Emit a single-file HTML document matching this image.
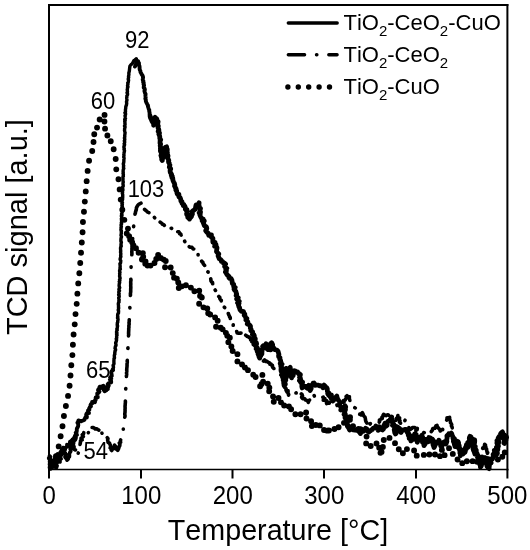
<!DOCTYPE html>
<html><head><meta charset="utf-8"><style>
html,body{margin:0;padding:0;background:#fff;}
svg{display:block;}
text{font-family:"Liberation Sans",Arial,sans-serif;fill:#000;font-kerning:none;}
</style></head><body>
<svg width="530" height="550" viewBox="0 0 530 550">
<rect width="530" height="550" fill="#fff"/>
<g fill="none" stroke="#000" stroke-linejoin="round" stroke-linecap="round">
<path d="M49.5,456.0 L50.5,456.9 L48.8,458.1 L49.1,459.0 L50.4,459.9 L50.0,461.1 L50.3,462.1 L49.9,463.3 L49.6,464.4 L51.3,465.4 L51.5,466.6 L49.6,467.8 L50.6,468.7 L51.3,468.1 L49.7,466.8 L50.9,466.1 L51.8,465.3 L50.9,463.3 L52.8,461.8 L52.8,460.4 L53.2,460.9 L53.4,462.1 L52.3,463.5 L51.5,464.8 L53.0,465.7 L52.5,466.4 L53.1,465.2 L52.4,463.4 L53.1,461.9 L53.9,460.5 L54.5,458.8 L55.9,460.1 L56.0,461.4 L56.2,462.5 L55.7,463.6 L56.3,464.6 L57.0,465.7 L56.2,467.7 L56.2,465.7 L56.5,464.6 L55.5,463.4 L57.5,462.3 L57.3,461.2 L55.6,459.8 L56.4,458.5 L57.5,457.2 L57.6,456.2 L58.3,455.4 L57.2,454.3 L57.4,454.1 L57.3,454.4 L58.3,455.2 L57.9,456.3 L57.3,457.4 L57.6,458.3 L58.6,459.2 L58.6,460.2 L59.1,460.0 L58.5,460.1 L60.0,459.3 L59.2,458.2 L58.7,457.2 L59.7,456.4 L60.2,455.5 L60.3,454.7 L59.8,453.6 L60.2,452.8 L60.5,451.9 L60.7,453.4 L62.0,454.4 L62.1,452.9 L62.7,451.5 L61.8,450.1 L62.0,448.9 L63.8,447.9 L63.1,447.7 L64.0,448.3 L65.1,449.6 L64.6,448.5 L65.8,447.7 L67.3,446.2 L67.0,444.7 L67.2,444.9 L67.8,446.3 L68.6,444.8 L69.3,444.4 L70.5,443.8 L69.9,442.7 L70.0,441.6 L71.4,442.3 L72.0,443.8 L73.5,443.1 L71.9,441.2 L74.0,440.0 L74.4,438.4 L74.2,437.5 L74.2,438.3 L75.1,440.1 L75.7,438.6 L75.9,437.7 L75.7,436.7 L75.0,435.7 L77.0,435.0 L76.5,433.9 L75.7,432.8 L76.6,432.0 L76.8,430.6 L76.8,429.1 L77.0,428.1 L77.7,427.2 L78.1,426.2 L78.3,425.2 L78.2,424.1 L77.4,422.8 L78.1,421.9 L78.4,420.5 L80.0,420.9 L81.1,421.3 L82.0,420.8 L83.0,420.5 L84.5,419.7 L85.2,417.7 L86.8,417.6 L86.9,416.5 L86.1,415.0 L86.4,414.0 L86.9,413.1 L89.0,413.0 L88.1,411.6 L88.0,410.5 L89.4,409.7 L89.1,408.4 L89.6,407.8 L89.8,407.2 L91.0,406.4 L90.5,405.1 L91.0,404.0 L92.4,403.3 L92.1,401.9 L93.6,401.7 L95.0,402.2 L94.2,401.0 L95.4,400.4 L95.8,399.5 L95.6,398.4 L95.7,397.5 L97.8,397.2 L97.4,395.3 L97.2,393.4 L98.6,392.6 L99.5,391.6 L98.0,390.1 L98.4,389.2 L99.0,388.5 L100.6,388.1 L99.6,386.8 L101.0,386.7 L102.2,386.3 L103.4,385.7 L104.6,387.1 L103.4,389.3 L104.6,391.3 L106.2,390.4 L106.8,389.4 L107.9,389.1 L107.5,388.1 L108.2,387.3 L107.8,386.3 L108.8,385.6 L107.7,384.2 L109.0,383.0 L111.2,382.3 L111.1,380.9 L109.9,379.7 L111.3,378.7 L110.1,377.5 L111.8,375.9 L111.6,374.1 L111.3,372.9 L111.4,371.8 L112.0,370.8 L113.1,370.1" stroke-width="3.9"/>
<path d="M113.1,370.1 L112.6,369.0 L113.3,368.2 L113.5,367.2 L113.3,366.3 L113.1,365.3 L113.8,364.4 L114.0,363.5 L113.9,362.5 L113.9,361.6 L113.9,360.6 L114.0,359.7 L114.0,358.7 L114.5,357.8 L114.4,356.9 L114.3,355.9 L114.4,355.0 L114.9,354.1 L114.7,353.1 L115.0,352.1 L114.9,351.2 L115.5,350.3 L115.6,349.3 L115.0,348.3 L115.2,347.4 L115.4,346.4 L116.0,345.5 L116.0,344.6 L115.7,343.6 L115.7,342.6 L116.2,341.7 L116.4,340.8 L116.6,339.8 L116.2,338.8 L116.7,337.9 L116.7,337.0 L116.6,336.0 L117.1,335.0 L116.5,334.0 L117.0,333.0 L116.5,332.0 L116.7,331.0 L117.3,330.0 L116.8,329.0 L117.3,328.0 L117.3,327.0 L117.6,326.0 L117.2,325.0 L117.3,324.0 L117.3,323.0 L117.8,322.0 L117.7,321.0 L118.0,320.0 L118.1,319.0 L117.5,318.0 L117.9,317.0 L117.6,316.0 L117.7,315.0 L117.8,314.0 L118.5,313.0 L118.5,312.0 L118.6,311.0 L118.2,310.0 L118.5,309.0 L118.7,308.0 L118.4,307.0 L118.6,306.0 L118.4,304.9 L118.3,303.9 L118.5,302.9 L119.1,301.9 L118.8,300.9 L119.2,299.9 L118.8,298.9 L118.7,297.8 L119.2,296.8 L119.2,295.8 L118.6,294.8 L119.2,293.8 L118.8,292.8 L118.8,291.7 L119.5,290.7 L118.9,289.7 L119.1,288.7 L119.7,287.7 L119.3,286.7 L119.1,285.6 L119.2,284.6 L119.3,283.6 L119.7,282.6 L119.2,281.6 L119.9,280.6 L119.5,279.6 L120.1,278.6 L120.0,277.5 L119.6,276.5 L119.6,275.5 L119.8,274.4 L119.6,273.4 L120.0,272.3 L119.6,271.2 L119.6,270.2 L120.4,269.1 L119.9,268.1 L120.2,267.0 L120.1,265.9 L120.1,264.9 L119.9,263.8 L120.6,262.8 L120.7,261.7 L120.8,260.6 L120.1,259.6 L120.2,258.5 L120.6,257.4 L120.9,256.4 L120.6,255.3 L120.8,254.3 L120.8,253.2 L120.5,252.1 L120.8,251.1 L120.6,250.0 L120.6,249.0 L120.5,248.0 L120.7,247.1 L121.3,246.1 L120.9,245.1 L121.1,244.2 L121.1,243.2 L121.4,242.2 L120.9,241.2 L120.9,240.3 L120.9,239.3 L121.0,238.3 L121.4,237.4 L121.5,236.4 L121.0,235.4 L121.1,234.4 L121.3,233.5 L121.3,232.5 L121.4,231.5 L121.1,230.6 L120.9,229.6 L121.1,228.6 L121.0,227.6 L121.4,226.7 L121.1,225.7 L121.1,224.7 L121.6,223.8 L121.3,222.8 L121.8,221.8 L121.5,220.8 L121.9,219.9 L121.3,218.9 L121.6,217.9 L121.9,217.0 L121.3,216.0 L122.1,215.0 L121.5,214.0 L122.0,213.0 L122.2,211.9 L122.1,210.9 L121.8,209.9 L121.6,208.8 L122.0,207.8 L122.4,206.8 L121.9,205.7 L122.4,204.7 L121.9,203.7 L122.5,202.7 L121.9,201.6 L122.1,200.6 L122.6,199.6 L122.6,198.6 L122.7,197.5 L122.7,196.5 L122.7,195.5 L122.7,194.5 L122.3,193.4 L122.6,192.4 L122.4,191.4 L122.9,190.3 L122.9,189.3 L122.6,188.3 L122.5,187.2 L123.2,186.2 L123.2,185.2 L123.0,184.2 L123.0,183.1 L123.3,182.1 L123.0,181.1 L123.0,180.1 L123.0,179.0 L123.0,178.0 L122.9,177.0 L123.4,176.1 L123.2,175.1 L123.4,174.2 L123.0,173.2 L123.3,172.3 L123.1,171.3 L123.2,170.4 L123.3,169.4 L123.8,168.5 L123.5,167.5 L123.5,166.6 L123.7,165.7 L123.4,164.7 L123.3,163.7 L123.7,162.8 L123.8,161.9 L123.9,160.9 L123.8,159.9 L124.0,159.0 L124.1,158.1 L123.7,157.1 L123.9,156.1 L124.0,155.2 L123.8,154.2 L124.0,153.3 L124.1,152.4 L124.4,151.4 L124.5,150.5 L124.0,149.5 L124.3,148.6 L123.9,147.6 L123.9,146.6 L124.3,145.7 L124.6,144.8 L124.1,143.8 L124.6,142.9 L124.7,141.9 L124.3,140.9 L124.7,140.0 L124.8,139.1 L124.4,138.1 L124.7,137.2 L124.8,136.3 L124.7,135.3 L124.9,134.4 L125.0,133.4 L125.1,132.5 L124.8,131.6 L124.5,130.6 L124.6,129.7 L124.6,128.7 L124.9,127.8 L125.1,126.9 L124.5,125.9 L125.0,125.0 L125.1,124.1 L124.8,123.1 L125.0,122.2 L124.7,121.2 L125.2,120.3 L124.7,119.4 L125.5,118.4 L125.3,117.5 L125.2,116.6 L125.0,115.6 L125.5,114.7 L125.6,113.8 L124.9,112.8 L125.5,111.9 L125.5,110.9 L125.4,110.0 L125.7,108.4 L125.8,106.7 L126.4,105.1 L126.7,103.4 L126.5,101.7 L127.0,100.0 L126.8,99.0 L126.7,97.9 L126.9,96.9 L126.8,95.9 L127.5,94.9 L127.6,93.9 L127.0,92.8 L127.5,91.8 L127.4,90.8 L127.2,89.7 L127.5,88.7 L127.5,87.7 L128.0,86.8 L127.5,85.8 L127.7,84.9 L128.0,83.9 L127.7,83.0 L128.3,82.1 L128.4,81.1 L128.6,80.2 L128.2,79.2 L128.4,78.3 L128.7,77.3 L128.5,76.4 L128.9,74.7 L128.8,72.9 L129.3,71.2 L129.5,69.5 L129.7,67.8 L129.9,66.1 L130.6,65.1 L131.5,64.2 L132.3,63.5 L132.9,62.6 L133.3,61.7 L133.8,60.7 L135.0,60.0 L136.2,59.1" stroke-width="3.4"/>
<path d="M136.2,59.1 L136.1,60.3 L136.8,61.1 L136.5,62.1 L136.8,63.0 L136.1,63.7 L135.8,64.7 L135.3,65.5 L134.9,66.6 L135.6,65.4 L136.0,64.3 L136.1,63.1 L136.6,62.0 L138.1,61.2 L138.3,62.3 L139.0,63.1 L138.9,64.1 L139.1,65.1 L139.5,66.2 L139.6,67.4 L139.6,68.7 L139.8,69.9 L140.4,71.0 L140.5,72.2 L141.2,73.3 L141.7,74.4 L142.6,75.7 L143.1,77.3 L142.9,78.4 L142.7,79.3 L142.9,80.3 L143.5,81.1 L143.1,82.2 L143.8,83.0 L143.5,84.2 L144.1,85.2 L143.8,86.4 L143.7,87.6 L144.6,88.6 L144.9,89.7 L144.4,90.9 L144.7,92.0 L145.0,93.1 L145.6,94.1 L145.4,95.2 L145.5,96.3 L145.7,97.4 L145.3,98.6 L145.8,99.6 L145.8,100.8 L146.3,102.4 L147.1,103.9 L148.0,105.4 L147.9,106.4 L148.3,107.3 L148.5,108.2 L148.8,109.2 L149.3,110.0 L149.2,111.0 L149.6,112.7 L149.6,114.4 L150.1,116.0" stroke-width="3.9"/>
<path d="M150.1,116.0 L150.4,117.7 L151.3,119.4 L151.9,121.0 L152.5,122.0 L153.2,122.9 L153.6,123.9 L153.6,125.3 L154.3,124.2 L154.1,123.2 L153.8,122.2 L154.8,121.4 L154.6,120.3 L154.7,119.3 L154.4,118.2 L155.1,117.3 L155.6,118.2 L156.6,118.7 L157.0,119.7 L157.0,120.9 L158.1,121.7 L157.9,122.9 L157.4,124.0 L157.8,125.0 L158.3,126.1 L158.0,127.2 L158.2,128.2 L158.7,129.3 L158.9,130.2 L158.2,131.3 L159.1,132.1 L159.5,133.0 L158.8,134.1 L159.3,135.0 L159.7,136.2 L159.8,137.4 L159.8,138.6 L160.7,139.7 L160.1,140.9 L160.1,142.0 L160.0,143.0 L160.6,144.1 L160.2,145.7 L160.7,147.2 L160.4,148.2 L161.0,149.1 L160.4,150.1 L160.4,151.1 L161.3,152.7 L161.6,154.4 L160.9,155.5 L161.4,156.5 L161.4,157.5 L162.5,158.3 L161.7,159.5 L162.3,160.5 L162.3,159.4 L162.7,158.4 L163.3,157.5 L163.6,156.6 L163.1,155.4 L163.8,154.6 L163.5,153.5 L164.6,152.6 L164.2,151.5 L164.9,150.6 L165.0,149.0 L165.2,147.5 L166.6,146.8 L166.6,148.1 L167.2,149.0 L167.3,150.0 L166.7,151.1 L167.4,152.6 L167.2,154.1 L168.0,155.8 L167.7,157.7 L167.8,158.6 L168.4,159.5 L168.8,160.4 L168.5,161.4 L168.6,162.3 L169.3,163.2 L169.5,164.1 L169.9,165.0 L169.5,166.1 L169.3,167.2 L170.3,168.0 L170.7,169.0 L170.1,170.1 L170.1,171.1 L170.3,172.4 L171.1,173.6 L171.6,174.4 L171.3,175.5 L172.3,176.3 L171.9,177.4 L172.8,178.2 L172.7,179.2 L173.1,180.7 L173.7,182.0 L174.4,183.4 L174.8,184.8 L174.5,186.0 L175.2,186.9 L175.4,187.9 L176.1,188.8 L175.8,190.0 L176.6,190.8 L176.8,191.9 L177.0,193.0 L177.4,194.0 L178.9,194.4 L178.6,195.8 L179.0,196.9 L180.1,197.6 L180.5,198.6 L180.8,199.8 L180.9,201.0 L182.0,201.8 L181.9,203.1 L182.6,203.9 L183.7,204.4 L183.4,205.7 L184.8,206.1 L185.3,207.6 L185.3,209.3 L186.9,209.7 L186.5,210.8 L187.4,211.5 L187.0,212.6 L186.6,213.8 L186.8,214.8 L188.9,215.1 L189.2,216.0 L187.9,217.5 L189.9,217.7 L189.7,218.8 L189.5,219.0 L189.1,218.6 L189.3,217.6 L190.9,217.2 L191.5,216.3 L191.7,215.2 L192.4,214.2 L192.3,212.9 L192.1,211.6 L193.5,210.4 L195.1,209.3 L195.5,207.8 L195.8,206.1 L196.1,205.0 L198.3,205.4 L198.4,204.0 L199.1,202.8 L198.9,204.7 L199.2,206.2 L199.4,207.4 L200.5,208.5 L200.0,209.7 L200.0,210.9 L200.5,211.8 L199.2,212.9 L200.3,213.8 L199.9,214.9 L200.3,215.9 L200.7,216.8 L201.2,217.7 L201.7,218.6 L203.1,219.1 L202.2,220.8 L204.3,221.0 L203.2,222.6 L203.8,224.0 L204.3,225.6 L206.4,226.8 L206.8,228.6 L205.7,230.7 L206.9,232.2 L208.3,233.2 L208.7,235.3 L211.5,235.0 L211.1,236.7 L211.8,237.6 L212.9,238.3 L212.9,239.6 L212.8,241.0 L212.9,242.2 L215.1,242.5 L214.6,244.0 L215.9,244.7 L214.7,246.3 L216.6,246.8 L217.0,247.8 L216.7,249.7 L216.5,251.6 L217.8,253.0 L218.8,254.0 L218.1,255.9 L218.7,257.3 L219.3,258.7 L221.0,259.7 L221.4,261.3 L222.6,261.6 L223.2,262.9 L224.5,263.2 L225.6,264.1 L224.8,265.4 L224.6,266.5 L225.6,267.5 L226.8,268.4 L225.8,269.7 L226.4,270.7 L225.4,272.0 L226.2,273.2 L227.0,274.7 L228.2,275.7 L229.0,276.3 L228.9,277.5 L229.5,278.3 L231.0,278.5 L231.9,280.1 L232.1,281.9 L232.4,283.7 L233.7,284.4 L233.7,285.6 L233.7,286.8 L235.2,287.4 L234.0,289.1 L234.6,290.2 L235.7,291.1 L236.1,292.2 L236.3,293.2 L236.7,294.2 L236.1,295.5 L237.0,296.3 L237.1,297.2 L238.2,297.8 L236.7,299.1 L238.2,299.7 L238.4,300.6 L239.2,301.3 L237.6,302.9 L239.0,303.6 L238.4,304.9 L238.7,305.9 L238.9,306.9 L239.6,307.7 L239.7,308.8 L240.1,309.9 L241.4,311.2 L243.5,311.7 L243.9,313.2 L244.8,314.2 L244.2,315.3 L245.0,316.1 L245.5,316.9 L245.7,317.8 L246.8,318.5 L245.9,320.0 L246.9,320.8 L247.7,321.7 L248.0,322.7 L247.3,324.0 L248.6,324.5 L249.7,325.1 L250.5,326.2 L250.3,328.0 L251.0,329.1 L250.8,330.6 L252.6,331.7 L252.7,333.4 L252.4,334.5 L254.0,334.9 L254.3,335.8 L253.7,337.0 L254.6,337.7 L255.3,338.6 L255.2,339.7 L254.7,340.9 L255.2,341.9 L256.3,342.7 L256.6,343.9 L255.3,345.4 L256.0,346.5 L257.1,347.5 L256.2,348.8 L258.1,349.1 L257.7,350.2 L257.2,351.4 L257.8,352.1 L258.9,352.7 L258.1,354.2 L259.1,355.2 L258.9,356.5 L259.7,358.1 L260.1,356.4 L260.8,355.7 L260.8,354.7 L261.9,354.0 L261.9,352.2 L262.1,350.4 L262.6,348.8 L263.4,348.2 L262.6,346.5 L263.3,345.6 L264.9,345.6 L265.6,344.8 L266.0,343.7 L266.4,344.8 L266.9,345.9 L266.4,347.4 L267.0,348.6 L268.1,349.6 L269.0,349.7 L270.7,349.8 L270.3,348.4 L269.9,347.3 L270.3,346.3 L271.3,345.5 L270.1,344.2 L271.6,342.7 L272.6,344.6 L272.7,346.8 L273.9,348.1 L274.9,349.6 L276.8,350.0 L278.0,351.2 L278.3,352.2 L278.6,353.3 L278.9,354.4 L278.6,355.7 L278.7,356.9 L280.0,357.8 L279.8,359.3 L280.6,360.6 L280.8,361.9 L280.6,363.1 L280.6,364.2 L280.9,365.4 L282.0,364.3 L280.4,363.1 L280.9,362.2 L280.2,363.4 L280.8,364.7 L281.1,366.0 L281.6,367.2 L281.2,366.3 L280.8,365.9 L280.9,366.7 L281.4,367.9 L281.0,369.0 L281.0,370.2 L281.2,371.3 L282.2,372.3 L282.1,373.4 L282.0,374.1 L283.0,375.3 L282.4,376.8 L283.0,377.9 L283.3,379.1 L283.2,380.3 L283.9,381.4 L283.7,382.5 L283.8,383.7 L284.7,384.7 L284.2,385.8 L284.0,384.9 L285.2,383.7 L284.7,382.5 L284.2,381.3 L285.7,380.2 L284.5,378.6 L285.3,377.3 L285.9,376.3 L285.4,377.1 L286.0,378.1 L286.5,377.2 L286.0,376.1 L286.6,375.1 L286.2,373.9 L287.2,372.7 L286.7,371.4 L285.5,370.2 L286.0,368.4 L287.6,370.1 L289.3,369.6 L288.9,368.7 L290.2,367.3 L290.4,369.0 L289.6,370.4 L290.8,371.5 L290.4,372.8 L290.6,374.5 L290.3,372.8 L291.5,372.0 L290.9,371.7 L291.5,372.2 L291.6,373.4 L292.1,374.5 L291.0,375.8 L291.6,377.9 L291.9,375.5 L293.2,375.7 L293.2,374.3 L293.9,373.1 L293.0,371.4 L294.3,370.7 L295.4,371.1 L296.2,371.9 L297.6,371.8 L297.8,372.8 L298.8,374.1 L299.1,373.6 L300.4,374.7 L300.0,376.1 L299.5,377.3 L300.4,378.2 L300.3,379.4 L299.5,380.5 L301.2,381.4 L301.1,382.9 L299.9,381.0 L300.8,379.5 L301.1,381.5 L302.6,382.2 L302.2,383.6 L302.6,384.8 L301.8,386.1 L302.1,388.0 L303.6,386.8 L304.5,386.4 L305.3,386.4 L306.0,386.4 L307.2,386.6 L306.9,388.1 L307.7,388.3 L308.3,387.4 L308.8,385.3 L308.2,387.7 L309.2,388.6 L310.1,390.5 L311.2,388.6 L310.4,386.7 L311.4,386.1 L311.7,385.2 L312.8,384.1 L313.1,383.2 L314.0,383.0 L314.7,383.9 L314.9,385.3 L316.3,385.2 L317.5,385.1 L318.5,385.2 L319.7,385.9 L320.8,385.7 L321.4,386.1 L322.3,386.5 L322.9,387.8 L322.8,386.2 L323.9,385.1 L325.2,386.3 L325.4,387.5 L326.8,387.6 L327.3,388.8 L327.3,390.0 L327.4,391.2 L327.9,392.3 L327.7,393.6 L329.1,393.2 L328.4,394.8 L329.1,395.5 L329.8,396.4 L329.9,396.5 L330.5,395.9 L331.4,395.0 L331.3,396.0 L331.2,397.3 L331.3,398.6 L332.6,399.7 L332.5,401.1 L333.5,400.5 L333.7,399.3 L334.5,398.2 L335.6,397.4 L336.8,396.1 L337.2,397.9 L337.5,399.1 L338.3,400.1 L338.5,400.4 L339.5,401.4 L340.0,402.4 L339.6,403.7 L339.3,405.0 L340.2,406.1 L341.1,407.3 L341.2,408.8 L340.8,410.0 L341.8,409.7 L343.1,409.7 L343.4,410.5 L344.3,410.1 L345.3,409.3 L345.0,407.9 L345.3,406.8 L345.0,405.8 L345.7,406.9 L345.2,408.1 L345.5,409.2 L345.3,410.3 L344.4,411.4 L344.5,412.5 L345.2,413.8 L344.7,414.0 L344.1,414.4 L345.2,415.1 L345.1,416.1 L345.3,417.6 L345.6,418.5 L345.1,417.8 L346.6,416.8 L346.6,418.6 L346.0,420.0 L346.6,421.3 L347.4,422.5 L346.9,423.8 L347.7,424.9 L347.4,426.2 L347.9,427.0 L349.0,426.4 L349.4,427.0 L348.9,428.5 L349.6,430.0 L350.7,429.1 L351.0,427.9 L351.4,427.5 L352.1,427.8 L352.3,428.9 L353.0,429.9 L354.8,430.0 L356.5,430.3 L357.7,430.0 L358.9,429.7 L358.7,431.3 L359.7,432.4 L360.4,433.6 L359.9,432.4 L360.8,431.4 L360.5,430.2 L361.2,428.8 L361.7,430.2 L362.0,431.3 L362.8,430.8 L363.6,430.7 L364.4,430.2 L365.0,429.3 L365.6,428.3 L367.0,429.3 L367.4,430.7 L368.0,431.6 L369.0,432.0 L369.8,431.1 L370.9,430.6 L371.4,429.8 L372.4,429.5 L373.1,428.3 L374.0,428.0 L375.2,427.7 L375.8,426.1 L376.0,428.1 L377.7,428.4 L378.1,430.4 L377.9,428.4 L379.3,427.5 L379.2,426.7 L379.8,427.2 L379.3,428.5 L380.4,428.9 L381.2,429.3 L382.5,430.0 L383.6,428.8 L383.3,427.5 L384.3,426.5 L384.0,425.1 L384.8,424.0 L385.0,423.2 L384.9,423.8 L386.1,424.6 L385.5,426.6 L387.1,425.4 L387.3,423.8 L387.5,422.4 L388.3,421.2 L389.4,421.0 L389.9,419.8 L390.9,419.1 L391.2,418.0 L391.6,416.9 L391.1,418.2 L392.0,419.1 L391.9,420.3 L392.9,421.2 L392.4,422.6 L393.3,423.7 L392.5,425.3 L393.8,424.2 L394.6,425.8 L394.6,427.1 L394.7,428.3 L394.2,429.6 L394.5,430.7 L394.5,431.6 L394.6,431.7 L394.7,432.6 L395.5,434.0 L396.4,432.8 L396.6,431.7 L395.9,430.4 L397.0,429.3 L396.4,427.9 L397.0,426.7 L398.2,427.5 L399.2,428.2 L399.8,428.8 L399.7,429.8 L401.0,430.7 L401.0,432.6 L401.8,430.7 L403.2,429.9 L404.3,430.0 L404.9,429.3 L406.2,429.3 L406.4,430.5 L407.1,431.2 L407.9,431.0 L407.4,432.6 L408.2,433.7 L408.3,435.3 L409.0,433.9 L409.2,434.9 L410.1,435.9 L409.3,437.2 L409.2,438.4 L410.5,439.2 L410.9,440.8 L412.0,440.2 L412.3,439.1 L413.3,438.5 L414.2,437.5 L413.3,435.7 L415.1,435.2 L414.8,433.8 L415.1,433.8 L416.1,434.5 L415.4,435.7 L416.4,436.7 L416.2,437.9 L415.8,439.8 L416.4,438.0 L416.8,437.0 L416.5,435.8 L416.7,436.9 L416.8,438.0 L416.4,439.2 L416.6,440.3 L417.6,441.3 L417.3,442.3 L417.7,441.4 L418.1,440.5 L419.1,439.8 L419.4,438.8 L419.5,437.1 L420.2,438.9 L420.8,439.6 L420.2,439.0 L420.5,437.9 L421.0,436.9 L422.1,436.0 L421.9,435.0 L421.7,436.1 L422.7,437.3 L423.0,438.5 L421.9,440.0 L422.4,441.1 L422.4,442.3 L424.1,443.1 L423.8,444.3 L424.0,445.7 L424.8,444.5 L425.4,443.5 L425.3,442.2 L425.4,441.1 L425.7,439.3 L426.8,441.0 L428.3,441.7 L429.0,440.1 L428.9,438.9 L428.9,437.5 L430.3,437.8 L430.3,439.3 L430.8,440.4 L431.9,441.8 L431.8,440.0 L432.6,439.4 L433.3,440.7 L433.6,442.0 L433.1,443.3 L433.0,444.6 L433.5,445.9 L434.0,447.5 L434.8,446.0 L435.2,444.8 L435.6,443.5 L435.7,442.0 L437.0,441.8 L438.0,441.9 L438.1,443.2 L438.2,441.9 L438.8,441.0 L438.9,440.1 L439.5,441.3 L439.3,443.0 L440.9,443.6 L441.7,444.4 L440.8,446.1 L442.0,446.5 L442.1,445.6 L442.7,444.6 L443.3,443.7 L444.3,442.8 L444.1,441.8 L444.9,442.1 L445.3,443.2 L446.0,443.9 L446.5,442.6 L446.9,441.3 L446.6,439.9 L447.0,438.6 L447.1,437.3 L446.9,435.9 L447.9,434.8 L448.0,435.4 L448.8,433.7 L450.5,434.4 L451.4,433.7 L451.2,433.0 L451.8,433.7 L451.8,434.8 L452.5,435.8 L452.9,436.8 L452.9,437.8 L453.2,438.9 L453.5,440.2 L453.4,441.6 L454.1,442.8 L454.3,443.6 L454.4,444.6 L454.9,445.9 L454.9,446.5 L456.0,446.6 L455.7,445.4 L456.3,444.4 L457.2,443.4 L456.9,442.3 L457.0,441.2 L458.1,441.7 L458.6,442.9 L458.0,444.1 L459.0,445.2 L457.9,446.5 L459.2,447.3 L458.7,448.3 L459.5,448.8 L459.4,449.0 L459.6,450.3 L460.5,451.6 L459.9,453.0 L460.9,454.3 L460.4,455.5 L460.8,454.1 L461.9,452.8 L463.1,453.9 L464.1,452.5 L463.4,451.0 L464.2,450.2 L464.8,450.5 L464.3,451.8 L464.9,452.4 L465.3,451.4 L464.9,450.0 L466.3,448.9 L465.5,447.5 L466.2,446.3 L466.4,444.7 L466.9,446.3 L468.0,447.2 L468.3,445.9 L468.6,444.8 L467.9,443.7 L467.7,442.5 L468.5,442.0 L468.9,442.5 L468.3,443.7 L469.2,445.5 L469.4,443.6 L468.8,442.2 L470.1,441.2 L469.9,439.9 L469.3,438.7 L469.4,437.5 L470.0,436.3 L471.0,437.0 L470.3,438.6 L471.1,439.4 L471.8,440.8 L472.3,439.4 L472.7,439.3 L473.7,439.6 L473.3,441.1 L473.4,439.4 L474.7,440.0 L474.7,441.5 L474.6,442.8 L473.8,444.1 L474.5,445.4 L474.5,446.4 L474.6,447.6 L475.3,446.5 L475.1,448.1 L475.4,449.5 L475.5,451.2 L476.3,450.2 L476.2,449.9 L476.0,450.9 L476.4,452.2 L477.0,453.4 L477.4,454.5 L478.1,455.6 L477.5,457.3 L478.9,458.3 L478.8,459.9 L479.4,458.3 L480.5,457.9 L480.5,459.5 L479.6,460.8 L480.2,462.1 L479.7,463.4 L479.8,464.6 L481.2,465.7 L480.4,467.3 L480.4,465.8 L481.3,466.0 L481.4,464.7 L482.3,463.5 L481.8,462.2 L481.2,460.9 L481.8,459.6 L482.0,458.5 L481.9,456.8 L482.5,458.2 L482.3,459.8 L483.7,459.2 L484.1,458.5 L485.1,457.9 L485.3,459.8 L486.7,458.5 L486.2,459.7 L487.3,460.7 L487.4,461.8 L486.3,463.0 L486.8,463.7 L487.2,462.0 L487.4,464.0 L486.8,465.3 L487.1,466.5 L488.2,467.8 L489.2,468.6 L489.1,466.9 L489.4,465.6 L489.2,464.3 L489.0,462.9 L490.0,461.6 L489.5,460.2 L490.4,460.2 L491.0,459.2 L492.4,459.2 L492.6,457.7 L493.1,458.1 L493.5,456.9 L493.3,455.7 L493.1,454.4 L494.0,453.3 L494.7,452.1 L494.3,450.3 L495.9,451.9 L496.4,450.1 L496.7,448.7 L496.4,447.3 L497.5,446.3 L497.6,445.9 L497.5,444.5 L496.9,443.1 L497.8,442.0 L497.0,440.8 L498.5,439.9 L498.0,438.6 L498.4,437.6 L499.1,436.6 L499.8,435.8 L500.3,434.8 L500.7,433.6 L501.5,432.7 L502.5,431.9 L502.7,432.6 L502.7,433.9 L502.4,435.4 L502.7,434.5 L504.0,434.6 L503.8,435.9 L504.0,437.1 L502.9,438.3 L504.2,439.5 L504.3,440.6 L504.0,441.8 L503.8,442.9 L504.5,443.5 L505.0,442.1 L504.9,440.8 L504.7,439.5 L504.9,437.4 L505.7,439.4 L505.3,441.2 L506.0,439.8 L505.3,438.5 L506.6,437.4 L506.0,436.0" stroke-width="4.8"/>
<path d="M124.8,417.2 L125.0,416.3 L125.0,415.4 L124.8,414.4 L124.8,413.5 L125.0,412.6 L125.0,411.7 L125.1,410.7 L125.0,409.8 L125.1,408.9 L125.1,408.0 L125.1,407.0 L125.0,406.1 L125.2,405.2 L125.2,404.2 L125.3,403.3 L125.4,402.4 L125.4,401.5 L125.3,400.6 L125.3,399.6 L125.3,398.7 L125.3,397.8 L125.3,396.8 L125.5,395.9 L125.4,395.0 L125.5,394.0 L125.7,393.0 L125.7,392.0 L125.7,391.0 L125.7,390.0 L125.7,389.0 L125.8,388.0 L125.8,387.0 L126.0,386.0 L126.1,385.0 L126.1,384.0 L126.0,383.0 L126.3,382.0 L126.3,381.0 L126.3,380.0 L126.4,379.0 L126.4,378.0 L126.5,377.0 L126.4,376.0 L126.6,375.0 L126.7,374.0 L126.5,373.0 L126.7,372.0 L126.8,371.0 L126.7,370.0 L126.8,369.0 L126.8,368.0 L127.0,367.0 L127.0,366.0 L127.1,365.0 L127.0,364.0 L127.2,363.0 L127.3,362.0 L127.2,361.0 L127.3,360.0 L127.4,359.0 L127.4,358.0 L127.4,357.0 L127.4,356.0 L127.4,355.0 L127.6,354.0 L127.5,353.0 L127.8,352.0 L127.6,351.0 L127.9,350.0 L127.7,349.0 L128.0,348.0 L128.0,347.0 L128.0,346.0 L128.0,345.0 L128.1,344.0 L128.1,343.0 L128.1,342.0 L128.1,341.0 L128.3,340.0 L128.4,339.0 L128.4,338.0 L128.3,337.0 L128.5,336.0 L128.6,335.0 L128.7,334.0 L128.5,333.0 L128.7,332.0 L128.6,331.0 L128.8,330.0 L128.7,329.0 L128.8,328.0 L129.0,327.0 L128.8,326.0 L129.0,325.0 L129.2,324.0 L129.0,323.0 L129.1,322.0 L129.3,321.0 L129.2,320.0 L129.4,319.0 L129.2,318.0 L129.4,317.0 L129.4,316.0 L129.6,315.0 L129.4,314.0 L129.7,313.0 L129.5,312.0 L129.8,311.0 L129.6,310.0 L129.7,309.0 L129.9,308.0 L129.8,307.0 L129.9,306.0 L130.1,305.0 L130.0,304.0 L130.0,303.0 L130.3,302.0 L130.1,301.0 L130.1,300.0 L130.3,299.0 L130.4,298.0 L130.5,297.0 L130.3,296.0 L130.5,295.0 L130.4,294.0 L130.5,293.0 L130.7,292.0 L130.7,291.0 L130.7,290.0 L130.7,289.0 L130.8,288.0 L130.8,287.0 L130.7,286.0 L130.7,285.0 L130.8,284.0 L130.7,283.0 L130.7,282.0 L130.8,281.0 L131.0,280.0 L130.8,279.0 L131.0,278.0 L130.9,277.0 L131.0,276.0 L130.9,275.0 L131.2,274.1 L131.0,273.1 L131.1,272.2 L131.1,271.2 L131.0,270.3 L131.2,269.4 L131.1,268.4 L131.1,267.5 L131.1,266.6 L131.2,265.6 L131.2,264.7 L131.4,263.8 L131.4,262.8 L131.6,261.9 L131.6,260.9 L131.6,260.0 L131.5,259.0 L131.6,258.0 L131.6,257.0 L131.7,256.0 L131.8,255.0 L131.9,254.0 L131.9,253.0 L131.8,252.0 L131.9,251.0 L132.0,250.0 L131.9,249.0 L132.0,248.0 L132.1,247.0 L132.1,246.0 L132.3,245.0 L132.2,244.0 L132.2,243.0 L132.3,242.0 L132.4,241.0 L132.4,240.0 L132.6,239.0 L132.7,238.0 L132.7,237.0 L132.9,236.0 L132.8,235.0 L133.1,234.0 L133.2,233.0 L133.2,232.0 L133.2,231.0 L133.3,230.0 L133.4,229.0 L133.4,228.0 L133.6,226.9 L133.7,225.8 L133.8,224.7 L133.8,223.7 L134.2,222.6 L134.2,221.5 L134.3,220.4 L134.6,219.3 L134.6,218.3 L134.6,217.2 L134.9,216.1 L134.9,215.0 L135.0,214.0 L135.4,213.0 L135.5,212.0 L135.8,211.0 L136.2,210.0 L136.4,209.0 L136.4,208.0 L136.8,207.0 L137.6,205.7 L138.5,204.5 L139.7,203.8 L141.0,203.2" stroke-width="3.6" stroke-dasharray="16.3 12.1 0.5 12.1" stroke-dashoffset="0.00"/>
<path d="M141.0,203.2 L141.5,204.0 L141.9,204.9 L142.3,205.8 L142.5,206.8 L143.2,207.6 L143.4,208.5 L144.4,209.2 L145.2,210.0 L146.1,210.7 L147.0,211.5 L147.7,212.1 L148.5,212.5 L149.3,212.9 L150.2,213.2 L151.5,214.2 L152.3,215.9 L153.7,216.6 L154.7,217.8 L155.5,218.3 L156.7,218.5 L156.9,219.6 L157.5,220.4 L158.2,221.0 L159.0,221.6 L160.5,222.4 L161.9,223.4 L162.4,224.2 L163.4,224.4 L164.0,225.1 L164.7,225.7 L166.2,226.5 L167.9,226.8 L168.9,227.5 L170.0,228.1 L171.3,228.2 L172.4,228.8 L173.2,229.2 L174.2,229.1 L175.1,229.4 L175.9,229.8 L176.4,230.6 L177.3,231.0 L177.8,231.8 L178.9,231.9 L179.4,232.7 L179.6,233.8 L180.8,234.1 L181.1,235.1 L181.9,235.7 L182.4,236.6 L182.2,237.8 L182.6,238.7 L183.4,239.5 L184.3,240.3 L184.7,241.4 L185.2,242.3 L185.4,243.4 L185.8,244.3 L186.6,245.0 L187.0,245.9 L188.1,245.8 L189.0,246.5 L189.9,247.2 L190.9,247.3 L192.0,247.3 L192.5,248.2 L193.1,248.9 L194.2,249.0 L194.9,250.8 L196.4,251.8 L197.3,253.3 L198.1,253.9 L198.1,255.0 L198.8,255.6 L199.4,256.3 L200.3,257.2 L200.6,258.4 L201.4,259.3 L201.4,260.6 L201.7,261.6 L202.8,262.2 L203.0,263.2 L203.5,264.1 L204.6,265.4 L205.3,267.0 L205.6,268.1 L206.3,269.0 L207.0,270.0 L207.0,271.3 L208.1,271.9 L208.2,273.0 L208.8,273.8 L209.2,274.8 L209.4,275.9 L210.3,276.8 L210.3,278.0 L210.8,279.0 L210.9,280.0 L211.0,281.0 L211.6,281.8 L212.5,282.5 L212.6,283.6 L212.9,284.7 L213.2,285.7 L213.9,286.5 L214.2,287.7 L215.5,288.4 L215.1,289.9 L215.8,290.9 L216.4,291.7 L216.6,292.8 L217.2,293.7 L218.4,294.3 L218.2,295.6 L218.8,296.6 L219.8,297.3 L219.8,298.6 L220.4,299.5 L221.3,300.3 L221.2,301.6 L222.3,302.3 L222.4,303.5 L223.1,304.5 L223.7,305.5 L223.9,306.7 L224.7,307.6 L225.5,308.5 L225.6,309.8 L227.0,310.3 L227.9,311.8 L228.3,313.5 L228.9,315.1 L229.4,315.9 L229.6,316.8 L230.2,317.5 L230.3,318.5 L230.9,319.2 L231.3,320.1 L231.4,321.1 L232.1,321.8 L232.5,322.7 L232.4,323.8 L233.3,324.4 L233.2,325.5 L233.7,326.5 L234.4,327.2 L234.6,328.2 L235.0,329.2 L235.3,330.2 L236.5,330.9 L236.9,331.9 L237.1,333.0 L238.8,333.2 L240.5,333.1 L241.5,333.1 L242.2,333.9 L243.0,334.6 L244.1,334.3 L244.8,334.9 L245.7,335.2" stroke-width="3.6" stroke-dasharray="5.5 7.5 0.5 7.5" stroke-dashoffset="13.6"/>
<path d="M245.7,335.2 L246.5,335.7 L247.1,336.5 L248.2,336.5 L248.9,337.3 L249.8,337.7 L250.5,338.3 L250.6,339.9 L253.1,339.9 L251.9,341.8 L253.5,342.4 L253.2,343.8 L253.3,345.1 L254.4,346.4 L255.8,347.4 L255.7,349.1 L258.0,349.1 L257.2,350.6 L258.1,351.3 L258.1,352.3 L257.7,353.4 L258.1,354.4 L258.9,355.3 L259.9,356.1 L260.4,357.0 L260.7,358.1 L261.9,358.7 L262.6,359.6 L262.6,361.9 L264.5,359.9 L265.8,361.5 L267.0,361.3 L267.7,362.0 L268.6,362.6 L269.7,362.9 L269.9,364.1 L271.0,364.0 L271.4,365.0 L272.4,365.2 L272.6,367.3 L273.8,368.5 L275.5,368.0 L276.4,368.9 L276.9,370.4 L278.9,370.5 L280.0,371.4 L280.2,372.6 L280.7,373.3 L280.3,374.7 L281.9,375.5 L282.3,376.7 L281.6,378.1 L283.2,378.8 L282.8,380.6 L283.9,381.5 L285.1,382.4 L284.4,383.8 L285.7,384.8 L284.6,386.2 L284.7,387.4 L286.1,388.6 L286.0,390.1 L287.1,392.1 L288.0,390.6 L288.1,391.2 L288.0,392.3 L288.0,393.4 L288.7,394.5 L288.4,395.9 L290.5,396.3 L291.8,397.2 L292.6,395.8 L292.4,394.2 L293.1,392.8 L294.5,392.8 L296.2,393.0 L295.4,391.4 L296.2,390.5 L297.1,391.7 L298.9,391.7 L297.7,393.5 L299.7,393.4 L300.7,393.3 L302.0,394.4 L302.5,395.6 L301.6,397.2 L302.5,398.6 L304.0,398.5 L305.0,398.9 L305.5,400.1 L307.1,400.4 L308.3,402.4 L308.9,400.8 L309.5,400.0 L310.7,400.2 L310.6,399.0 L311.3,398.1 L313.0,397.4 L311.5,395.6 L312.9,393.8 L314.2,395.6 L314.5,396.7 L315.9,396.5 L316.9,397.5 L317.2,398.7 L317.7,399.3 L318.7,399.3 L319.9,399.1 L320.1,397.8 L320.9,397.1 L321.8,397.3 L323.3,397.1 L323.7,398.1 L323.3,400.3 L324.9,398.6 L324.8,400.2 L326.7,400.7 L326.4,402.3 L326.6,403.6 L327.9,403.3 L329.2,403.3 L329.4,402.3 L330.4,403.1 L330.2,405.2 L332.1,404.7 L333.0,405.4 L333.9,406.1 L334.9,406.1 L336.2,405.5 L336.7,404.3 L337.1,405.4 L337.7,406.4 L338.3,408.1 L339.4,406.8 L339.8,405.8 L340.0,404.6 L340.4,403.4 L341.0,402.2 L342.2,403.0 L342.6,402.5 L344.0,402.0 L343.6,400.5 L345.2,400.1 L345.7,398.9 L346.5,398.1 L346.1,396.6 L347.0,395.7 L347.6,396.8 L348.8,396.6 L349.4,396.8 L349.3,398.4 L349.7,399.8 L349.9,400.9 L349.5,402.2 L351.2,402.2 L350.6,404.0 L351.3,405.1 L351.9,405.8 L352.7,405.8 L353.6,406.6 L353.8,408.0 L354.8,407.7 L355.7,408.2 L355.8,409.3 L356.8,410.3 L357.1,411.6 L357.0,412.4 L357.3,413.5 L357.9,414.7 L358.0,416.2 L359.1,416.0 L359.8,414.0 L361.1,414.9 L361.3,413.7 L362.3,412.6 L363.1,414.1 L363.4,415.3 L364.3,416.5 L365.0,417.1 L365.3,418.4 L365.5,419.6 L365.6,420.7 L366.0,421.7 L366.6,422.6 L367.3,423.5 L367.4,424.4 L368.5,425.1 L368.7,426.1 L368.1,427.4 L368.9,429.0 L369.0,427.6 L369.5,426.4 L369.7,425.2 L370.3,423.8 L370.9,422.4 L371.9,423.6 L373.5,424.5 L375.2,424.0 L376.0,424.3 L376.9,424.8 L377.8,423.3 L378.9,422.5 L379.7,421.5 L379.4,420.1 L380.5,419.4 L381.5,418.6 L382.3,418.6 L382.0,417.2 L383.0,416.4 L383.0,415.4 L383.6,414.3 L384.8,415.1 L386.0,415.6 L387.1,415.0 L388.1,414.7 L389.1,415.7 L389.7,416.9 L390.6,418.0 L390.3,419.7 L391.4,418.8 L391.4,418.1 L391.8,419.1 L392.7,420.2 L392.8,421.6 L392.9,422.5 L393.4,422.1 L393.9,421.2 L394.5,422.1 L393.9,423.3 L394.2,424.4 L395.1,425.7 L395.1,424.1 L395.0,423.0 L395.0,421.9 L395.9,421.0 L396.2,420.0 L396.2,418.6 L397.3,417.9 L397.5,417.6 L397.6,416.6 L397.9,415.5 L397.9,416.7 L398.4,417.7 L398.5,418.9 L399.6,418.0 L399.3,419.6 L400.0,420.7 L399.5,422.1 L400.6,423.2 L400.8,424.6 L401.3,425.8 L402.0,426.8 L402.3,425.8 L403.0,424.7 L402.4,423.4 L403.2,422.5 L404.1,422.6 L404.8,421.6 L404.9,420.4 L405.5,419.5 L406.0,418.3 L406.5,419.7 L407.3,420.8 L407.5,422.0 L407.3,423.3 L407.7,424.4 L407.7,424.9 L407.9,425.3 L408.5,426.4 L408.9,427.4 L408.9,428.8 L409.6,429.6 L410.5,429.4 L411.6,428.6 L412.4,427.5 L414.0,427.5 L414.8,427.6 L415.6,428.3 L416.0,429.3 L415.9,430.8 L416.3,429.5 L417.3,428.3 L417.1,430.3 L418.1,431.1 L418.7,430.3 L419.6,429.3 L421.3,429.5 L422.3,429.7 L423.1,428.9 L423.3,430.1 L423.6,431.2 L423.5,432.5 L425.1,432.8 L425.0,434.1 L425.8,434.6 L426.8,434.8 L428.0,435.6 L429.0,435.7 L429.8,435.7 L430.4,435.4 L431.1,434.6 L431.1,433.3 L431.1,432.0 L431.7,430.9 L432.4,430.2 L432.6,428.9 L433.5,428.4 L434.9,428.3 L435.7,427.3 L435.9,425.8 L437.0,425.3 L437.2,426.5 L438.2,427.6 L438.7,428.5 L439.5,429.2 L440.0,430.2 L440.3,431.2 L440.6,432.3 L440.1,433.5 L441.2,434.3 L441.1,435.7 L441.5,434.7 L441.9,433.9 L442.9,433.0 L442.6,432.0 L442.7,431.0 L442.7,430.0 L442.6,428.9 L442.7,427.7 L443.6,427.7 L444.2,426.9 L443.6,425.8 L445.1,424.9 L445.3,423.7 L445.2,422.4 L446.5,421.8 L446.5,420.5 L447.0,419.3 L447.0,417.8 L448.5,417.8 L449.6,417.4 L449.5,418.8 L450.0,420.0 L450.4,421.7 L450.5,422.7 L451.3,423.6 L451.7,424.6 L451.4,425.8 L452.0,426.9 L452.3,428.2 L452.3,429.5 L452.6,429.7 L453.0,431.0 L453.6,432.2 L453.4,433.5 L454.6,434.5 L454.2,435.8 L455.3,436.6 L454.8,437.9 L455.2,439.0 L455.7,440.1 L455.8,441.3 L455.8,442.2 L456.2,443.2 L455.9,444.4 L456.8,445.4 L457.0,446.5 L457.7,447.4 L458.6,446.6 L459.6,445.7 L459.4,447.4 L460.3,448.5 L459.8,449.9 L460.4,451.1 L460.4,452.4 L460.9,454.1 L461.6,452.5 L462.7,451.8 L462.4,450.1 L463.3,449.2 L464.4,448.9 L464.3,447.5 L465.5,447.3 L466.1,447.0 L466.9,447.2 L467.5,446.0 L467.0,444.6 L467.8,443.7 L468.1,442.7 L468.4,441.4 L468.9,440.5 L469.7,439.6 L469.4,438.3 L469.6,437.3 L470.5,436.5 L470.1,437.6 L470.5,438.7 L471.2,439.8 L471.0,438.0 L470.8,439.3 L471.9,440.4 L471.7,441.6 L471.1,442.8 L471.0,443.9 L471.6,444.9 L471.4,444.5 L472.2,445.2 L471.7,446.2 L472.4,447.2 L472.4,448.6 L472.7,449.9 L473.1,451.0 L473.8,452.1 L474.0,453.3 L474.5,454.5 L474.3,455.8 L475.3,456.8 L475.3,458.3 L475.9,459.7 L476.6,460.7 L477.1,462.3 L477.1,460.4 L477.9,459.3 L478.3,458.2 L478.5,457.0 L479.5,456.1 L480.0,454.7 L481.0,454.7 L481.2,453.4 L481.4,452.1 L482.3,450.9 L482.3,449.7 L482.6,448.9 L482.8,447.7 L483.7,448.2 L483.9,447.0 L484.5,445.9 L484.6,444.3 L485.5,444.9 L485.3,445.9 L485.8,446.9 L486.1,448.0 L486.6,449.0 L486.6,450.0 L486.8,450.9 L487.1,452.2 L487.4,453.3 L487.8,452.4 L487.5,453.8 L487.5,455.0 L487.8,456.1 L488.2,457.2 L489.5,458.1 L489.8,459.3 L489.9,460.6 L490.4,462.0 L491.5,463.1 L492.7,462.6 L494.0,463.6 L494.0,462.3 L494.6,461.6 L495.1,462.2 L495.9,461.3 L495.7,460.0 L496.1,458.8 L496.2,457.5 L496.4,456.3 L496.9,455.0 L498.0,453.7 L497.9,452.6 L497.7,451.6 L497.9,450.5 L498.5,449.5 L498.4,448.3 L498.6,447.2 L499.1,446.0 L498.4,444.6 L499.1,443.5 L499.3,442.3 L499.2,441.1 L500.4,442.2 L500.8,440.6 L500.3,439.3 L500.7,438.1 L500.9,438.1 L502.2,438.7 L503.5,438.4 L504.6,439.6 L506.0,440.0" stroke-width="3.6" stroke-dasharray="16.3 12.1 0.5 12.1"/>
<path d="M49.5,462.0 L50.1,463.1 L50.8,464.2 L50.1,465.7 L51.5,466.6 L51.0,468.1 L51.3,466.7 L51.2,465.2 L52.5,464.3 L52.8,462.1 L53.6,463.9 L54.8,464.6 L55.2,465.6 L55.0,466.9 L56.0,466.0 L54.9,464.5 L55.5,463.3 L56.6,462.4 L57.5,461.4 L57.1,460.1 L58.5,460.3 L60.1,461.9 L59.3,459.6 L61.2,458.9 L60.5,457.4 L60.6,456.1 L60.9,454.9 L61.6,453.9 L63.1,453.2 L62.4,451.6 L63.6,450.9 L64.0,450.1 L64.5,450.9 L64.3,452.2 L65.5,453.2 L65.7,454.3 L65.6,455.6 L64.9,456.9 L65.6,457.9 L66.5,458.8 L67.0,460.2 L68.3,458.9 L68.2,457.8 L69.4,456.9 L69.5,455.7 L68.8,454.5 L69.7,453.5 L69.8,452.3 L70.8,451.4 L70.7,450.2 L70.1,448.9 L71.7,448.0 L70.2,446.6 L71.0,445.5 L71.9,444.5 L71.0,443.1 L71.9,442.1 L71.2,440.8 L72.7,439.9 L72.5,439.2 L72.7,439.9 L72.3,441.2 L73.6,442.2 L73.0,443.5 L73.4,444.7 L73.6,445.8 L74.1,447.0 L73.9,448.3 L74.2,449.4 L75.5,450.0 M78.2,453.2 L78.3,453.0 M80.0,444.4 L80.3,443.2 L80.5,442.0 L80.5,440.7 L82.2,439.9 L81.0,438.2 L82.3,437.4 L83.4,436.5 L82.2,434.8 L83.5,433.9 L83.8,432.7 M88.3,432.7 L88.4,432.6 M92.1,427.5 L93.3,427.6 L94.3,428.1 L95.2,429.0 L96.7,428.8 L97.8,429.5 L98.9,430.1 M101.9,433.1 L102.0,433.2 M107.2,437.6 L108.0,438.6 L107.6,440.0 L107.9,441.1 L108.0,442.3 L109.6,443.1 L109.9,444.2 L110.4,445.3 L110.7,446.5 L110.1,447.9 L111.6,448.7 L111.2,450.1 L111.7,450.6 L111.8,450.0 L112.7,449.1 L114.0,448.4 L114.2,447.1 L114.5,445.0 L115.7,446.6 L116.6,447.4 L116.3,449.2 L117.7,450.3 L118.5,448.8 L118.9,447.7 L119.1,446.6 L119.8,445.6 L119.9,444.4 L119.2,443.0 L120.7,442.3 L120.3,441.0 L120.7,439.9 M123.3,429.3 L123.3,429.1" stroke-width="3.6"/>
<path d="M52.0,468.0 L52.3,466.9 L52.8,465.8 L53.1,464.7 L53.6,463.6 L54.0,462.5 L54.3,461.3 L54.6,460.2 L55.2,459.1 L55.5,458.0 L55.8,456.7 L56.3,455.4 L56.5,454.1 L56.9,452.9 L57.2,451.6 L57.6,450.3 L57.8,449.0 L58.3,447.7 L58.7,446.4 L58.8,445.2 L59.1,444.1 L59.3,442.9 L59.5,441.7 L59.8,440.5 L60.0,439.4 L60.2,438.2 L60.4,437.0 L60.8,435.9 L60.9,434.7 L61.2,433.5 L61.4,432.4 L61.6,431.2 L61.8,430.1 L62.0,428.9 L62.2,427.8 L62.4,426.6 L62.7,425.5 L62.8,424.3 L62.8,423.1 L63.0,422.0 L63.2,420.8 L63.5,419.7 L63.6,418.5 L63.8,417.4 L63.9,416.2 L64.1,415.0 L64.3,413.9 L64.5,412.7 L64.8,411.6 L65.0,410.4 L65.2,409.3 L65.4,408.1 L65.7,407.0 L65.9,405.8 L66.2,404.6 L66.4,403.5 L66.6,402.3 L67.0,401.1 L67.3,399.9 L67.5,398.8 L67.7,397.6 L68.0,396.4 L68.1,395.2 L68.4,394.1 L68.5,392.9 L68.6,391.8 L68.7,390.6 L69.1,389.5 L69.3,388.3 L69.3,387.1 L69.6,386.0 L69.6,384.9 L69.7,383.7 L69.8,382.6 L70.0,381.4 L70.1,380.3 L70.1,379.1 L70.3,378.0 L70.3,376.8 L70.5,375.7 L70.6,374.5 L70.8,373.3 L70.9,372.1 L70.9,371.0 L71.1,369.8 L71.1,368.6 L71.1,367.4 L71.3,366.2 L71.3,365.0 L71.5,363.9 L71.6,362.7 L71.8,361.6 L71.8,360.4 L71.9,359.3 L72.2,358.1 L72.2,357.0 L72.4,355.8 L72.4,354.7 L72.4,353.5 L72.5,352.4 L72.5,351.2 L72.6,350.1 L72.7,348.9 L72.7,347.8 L72.8,346.6 L72.9,345.5 L72.9,344.3 L73.0,343.2 L73.1,342.0 L73.1,340.9 L73.2,339.7 L73.4,338.6 L73.4,337.4 L73.5,336.3 L73.5,335.1 L73.7,333.9 L73.9,332.8 L73.9,331.6 L74.1,330.5 L74.2,329.3 L74.2,328.2 L74.5,327.0 L74.6,325.9 L74.7,324.7 L74.8,323.5 L74.9,322.4 L75.0,321.2 L75.0,320.1 L75.1,318.9 L75.3,317.8 L75.4,316.6 L75.4,315.5 L75.5,314.3 L75.6,313.2 L75.7,312.0 L75.8,310.9 L76.0,309.7 L76.1,308.6 L76.3,307.4 L76.3,306.3 L76.5,305.1 L76.7,304.0 L76.6,302.8 L76.8,301.7 L76.9,300.5 L76.9,299.4 L77.0,298.2 L77.2,297.1 L77.2,295.9 L77.2,294.8 L77.4,293.6 L77.5,292.4 L77.5,291.2 L77.7,290.1 L77.8,288.9 L78.0,287.7 L78.0,286.5 L78.2,285.4 L78.1,284.2 L78.3,283.0 L78.4,281.8 L78.6,280.7 L78.6,279.5 L78.7,278.3 L78.8,277.1 L79.0,276.0 L79.0,274.8 L79.3,273.6 L79.4,272.5 L79.4,271.3 L79.5,270.1 L79.7,269.0 L79.8,267.8 L79.9,266.7 L79.9,265.5 L80.0,264.3 L80.2,263.2 L80.4,262.0 L80.4,260.9 L80.5,259.7 L80.6,258.6 L80.7,257.4 L80.8,256.3 L81.0,255.1 L80.9,253.9 L81.0,252.8 L81.3,251.7 L81.3,250.5 L81.4,249.4 L81.4,248.2 L81.5,247.1 L81.6,245.9 L81.5,244.8 L81.7,243.6 L81.8,242.5 L81.8,241.3 L81.9,240.2 L81.9,239.0 L82.0,237.9 L82.1,236.7 L82.1,235.6 L82.3,234.4 L82.4,233.3 L82.6,232.1 L82.5,230.9 L82.7,229.8 L82.7,228.6 L82.8,227.5 L82.9,226.3 L82.9,225.2 L82.9,224.0 L82.8,222.9 L83.0,221.7 L83.0,220.5 L83.2,219.4 L83.4,218.2 L83.4,217.1 L83.5,215.9 L83.8,214.8 L83.8,213.6 L83.9,212.5 L84.0,211.3 L84.2,210.2 L84.2,209.0 L84.4,207.8 L84.4,206.7 L84.4,205.5 L84.6,204.4 L84.8,203.2 L84.7,202.0 L85.0,200.9 L85.1,199.8 L85.2,198.7 L85.3,197.6 L85.2,196.4 L85.4,195.3 L85.6,194.2 L85.5,193.1 L85.7,192.0 L85.8,190.9 L85.9,189.8 L86.0,188.6 L86.1,187.5 L86.3,186.3 L86.3,185.2 L86.4,184.0 L86.5,182.9 L86.6,181.7 L86.7,180.6 L87.0,179.5 L87.1,178.3 L87.0,177.1 L87.2,176.0 L87.3,174.8 L87.4,173.7 L87.5,172.5 L87.6,171.4 L87.7,170.2 L87.9,169.0 L88.0,167.7 L88.2,166.5 L88.4,165.3 L88.6,164.1 L88.9,162.9 L89.0,161.6 L89.1,160.4 L89.6,159.2 L90.1,158.1 L90.6,157.0 L91.1,155.9 L91.4,154.7 L92.0,153.6 L92.1,152.4 L92.2,151.3 L92.3,150.1 L92.5,148.9 L93.2,147.8 L92.6,146.6 L93.5,145.5 L93.0,144.3 L92.6,143.0 L93.5,142.0 L94.1,140.9 L92.5,139.6 L93.6,138.5 L93.7,137.4 L95.1,136.4 L95.4,135.3 L93.9,134.0 L95.5,133.1 L95.6,132.0 L94.5,130.4 L95.4,129.5 L94.9,128.1 L97.1,127.6 L97.1,126.2 L98.0,125.2 L98.0,123.9 L98.0,122.6 L98.5,121.5 L98.3,120.2 L99.1,118.9 L100.2,120.1 L100.5,118.5 L101.2,118.1 L103.3,118.3 L102.4,116.1 L104.5,114.8 L105.4,117.0 L103.4,118.4 L105.5,119.3 L106.1,120.5 L103.9,121.9 L106.1,122.8 L104.2,124.3 L104.8,125.4 L104.5,126.6 L104.3,127.9 L105.5,129.1 L105.1,130.4 L107.4,131.4 L105.6,132.9 L106.5,134.1 L106.9,135.5 L109.0,135.4 L108.5,137.6 L108.9,138.8 L111.4,138.7 L111.1,139.9 L110.8,141.1 L110.5,142.5 L112.4,143.3 L113.0,144.5 L113.1,145.8 L112.5,147.3 L112.5,148.8 L113.9,149.3 L114.2,150.4 L114.6,151.3 L115.1,152.3 L115.2,153.4 L115.4,154.6 L115.4,155.7 L115.4,156.9 L115.6,158.0 L115.7,159.2 L115.9,160.3 L115.9,161.5 L115.9,162.6 L116.0,163.8 L116.1,164.9 L116.1,166.1 L116.1,167.2 L116.1,168.4 L116.3,169.5 L116.4,170.7 L116.3,171.8 L116.3,173.0 L116.8,174.3 L117.2,175.5 L117.6,176.8 L118.1,178.0 L118.5,179.3 L119.0,180.6 L119.0,181.7 L119.1,182.9 L119.3,184.0 L119.3,185.2 L119.3,186.3 L119.5,187.5 L119.6,188.6 L119.7,189.8 L119.7,190.9 L119.9,192.1 L120.1,193.3 L120.2,194.5 L120.4,195.6 L120.4,196.8 L120.6,198.0 L120.7,199.2 L120.8,200.4 L121.0,201.5 L121.1,202.7 L121.5,203.9 L121.5,205.0 L121.8,206.2 L122.0,207.3 L122.2,208.5 L122.3,209.7 L122.5,210.8 L122.8,211.9 L123.0,213.0 L123.2,214.1 L123.4,215.3 L123.7,216.4 L123.8,217.5 L124.0,218.6 L124.3,219.7 L124.6,220.8 L124.8,222.0 L124.9,223.2 L125.2,224.3 L125.4,225.5 L125.6,226.7 L126.0,227.8 L128.0,228.6 L127.7,229.6" stroke-width="5.9" stroke-dasharray="0 10.3" stroke-dashoffset="8.20"/>
<path d="M127.7,229.6 L128.6,230.1 L126.8,232.9 L126.7,234.4 L127.0,235.2 L131.0,234.9 L127.8,237.1 L131.4,237.4 L131.1,238.7 L129.7,240.4 L133.7,240.1 L134.0,241.1 L130.2,243.7 L133.7,243.5 L133.8,244.7 L133.1,246.3 L133.0,247.6 L137.1,247.0 L135.6,248.6 L136.0,249.5 L136.8,250.3 L138.6,249.4 L138.5,251.9 L138.9,254.5 L141.4,251.8 L142.1,253.4 L145.3,252.6 L144.9,255.0 L142.8,256.6 L146.3,257.4 L141.9,259.5 L142.1,260.7 L147.1,260.6 L142.4,262.9 L146.0,263.1 L143.9,264.7 L144.8,266.5 L147.3,264.5 L147.9,267.0 L149.2,267.2 L151.3,268.3 L150.2,264.6 L153.4,265.2 L155.0,265.0 L154.4,263.4 L154.7,262.1 L153.5,259.9 L155.7,260.3 L155.4,258.9 L157.9,258.9 L158.1,257.9 L158.1,256.6 L156.8,254.4 L159.0,255.4 L159.4,256.0 L162.2,255.0 L160.2,259.0 L162.0,258.7 L165.3,258.7 L161.0,261.3 L165.9,261.0 L165.2,262.6 L163.3,264.4 L164.4,265.4 L165.0,266.6 L165.1,268.3 L166.9,267.8 L168.2,267.3 L169.5,266.9 L170.8,266.6 L170.3,270.4 L170.5,271.2 L172.2,271.5 L171.9,273.2 L174.5,272.9 L175.6,273.7 L175.7,275.1 L173.8,277.7 L178.9,276.5 L176.7,278.9 L178.5,279.8 L175.9,281.9 L178.6,282.5 L179.1,283.7 L179.0,285.0 L178.5,286.4 L178.2,288.9 L180.0,286.3 L181.8,289.0 L181.9,284.4 L183.3,285.1 L184.3,283.8 L185.5,283.7 L186.5,287.4 L187.0,287.6 L190.0,286.1 L190.9,286.9 L190.8,288.6 L190.5,290.8 L191.8,292.2 L193.8,291.8 L195.0,290.7 L196.0,287.9 L197.9,289.4 L199.5,290.9 L197.8,292.5 L197.8,293.9 L200.2,294.7 L200.1,296.0 L197.3,298.1 L202.0,297.4 L198.6,300.8 L198.8,302.3 L199.1,303.7 L202.8,303.3 L202.5,305.0 L203.1,306.0 L203.5,307.1 L202.9,309.6 L205.2,309.1 L207.6,307.9 L205.7,310.9 L208.1,310.5 L208.2,311.8 L208.2,313.2 L212.5,311.9 L209.3,315.5 L210.8,316.1 L212.4,316.3 L213.1,317.4 L214.2,317.7 L216.1,317.1 L215.6,319.3 L218.8,319.8 L216.5,321.7 L216.0,323.2 L217.5,324.1 L217.2,325.5 L215.5,327.4 L216.5,328.7 L221.1,327.1 L218.9,330.7 L220.7,331.1 L223.4,328.7 L223.3,330.9 L224.9,330.9 L226.6,331.7 L225.0,334.3 L223.8,336.7 L227.5,335.7 L225.7,338.6 L227.2,338.8 L230.5,337.5 L227.6,340.7 L229.2,341.2 L227.7,342.9 L229.2,343.9 L229.5,345.2 L232.2,345.6 L230.0,347.7 L229.7,349.0 L230.4,349.9 L233.2,350.4 L231.7,352.0 L233.6,352.7 L236.2,352.7 L237.2,353.6 L237.8,354.9 L237.8,356.4 L238.8,357.5 L237.7,359.7 L237.4,361.4 L238.9,361.7 L240.1,362.2 L239.7,364.0 L242.1,363.6 L242.0,365.1 L241.3,367.1 L243.6,366.7 L245.4,366.5 L243.5,370.6 L245.2,370.6 L247.4,369.9 L248.5,370.4 L249.3,371.8 L250.2,372.5" stroke-width="5.9" stroke-dasharray="0 8.0" stroke-dashoffset="3"/>
<path d="M250.2,372.5 L252.2,372.5 L253.7,372.9 L253.5,374.4 L251.7,376.8 L255.0,376.3 L254.2,378.0 L255.6,377.0 L256.8,377.3 L257.4,377.3 L258.3,377.8 L258.6,376.2 L259.1,375.0 L262.2,374.4 L263.2,377.1 L261.8,378.5 L264.1,379.4 L264.2,379.9 L263.2,381.6 L262.7,382.8 L260.9,382.8 L262.7,385.6 L260.7,385.5 L260.1,386.4 L260.2,385.0 L261.1,388.5 L261.0,384.7 L262.0,383.6 L264.0,384.8 L265.0,383.2 L266.4,385.3 L267.4,383.8 L269.8,383.1 L271.0,385.3 L268.1,387.3 L270.5,388.2 L268.8,390.8 L270.8,389.4 L269.0,391.2 L272.2,391.8 L272.7,393.0 L272.8,394.0 L271.6,396.4 L272.9,396.5 L274.4,397.1 L275.9,398.0 L273.4,399.7 L272.4,401.2 L274.4,401.9 L275.9,400.7 L274.3,400.6 L275.2,400.0 L276.2,399.6 L278.2,397.7 L280.4,399.3 L279.1,402.1 L278.9,403.7 L281.7,401.9 L282.1,405.5 L283.2,403.2 L283.8,404.7 L284.2,405.6 L285.1,406.3 L287.8,403.0 L288.2,404.2 L289.2,405.6 L288.9,406.8 L292.6,405.4 L292.2,407.0 L290.4,409.3 L294.0,408.8 L293.6,410.2 L294.5,410.8 L294.3,412.9 L295.3,414.4 L297.4,411.2 L297.8,414.1 L299.4,414.5 L301.1,414.1 L301.5,412.3 L302.6,413.5 L303.8,411.4 L304.6,412.2 L306.3,412.3 L304.3,414.5 L306.0,415.3 L307.3,416.1 L308.1,417.1 L305.9,418.9 L306.8,419.9 L306.6,421.2 L308.2,421.6 L309.2,421.9 L311.4,420.5 L310.2,423.4 L313.7,423.0 L312.3,425.1 L311.6,426.7 L313.2,428.1 L312.3,425.2 L313.5,424.6 L316.6,425.2 L316.2,423.8 L317.7,424.6 L318.2,424.2 L319.5,423.0 L319.1,425.4 L320.3,425.4 L322.5,425.2 L323.0,426.3 L324.8,426.4 L324.1,428.2 L324.0,431.0 L327.1,428.0 L325.9,430.6 L328.4,430.7 L329.0,431.7 L327.5,434.3 L328.1,431.9 L328.7,430.5 L330.0,430.3 L332.3,431.8 L333.2,430.9 L333.4,428.0 L334.5,429.0 L337.0,430.9 L336.2,427.8 L337.8,428.3 L338.4,427.2 L340.0,427.8 L340.8,426.8 L342.2,427.0 L342.9,425.6 L344.0,424.7 L343.6,424.2 L343.6,422.9 L346.9,422.6 L344.6,420.2 L345.2,418.8 L348.9,420.2 L347.3,417.4 L350.2,418.2 L349.7,414.6 L350.3,417.2 L351.6,417.7 L349.8,419.7 L351.0,420.3 L351.1,421.4 L351.0,422.6 L350.8,423.8 L353.1,424.3 L352.4,425.7 L353.3,426.5 L354.7,425.6 L354.9,428.7 L356.3,428.2 L356.8,429.2 L359.3,428.7 L359.0,430.6 L360.0,431.5 L361.0,432.7 L362.3,430.1 L363.6,431.4 L364.0,432.9 L366.1,432.9 L365.2,435.0 L365.2,436.3 L367.0,436.7 L366.4,438.2 L366.8,439.4 L368.6,440.3 L368.3,441.7 L366.0,443.5 L368.9,444.1 L369.0,445.2 L370.8,445.6 L369.8,446.2 L369.3,445.6 L372.5,446.4 L372.5,445.0 L373.3,444.7 L374.3,444.9 L375.1,443.1 L376.0,444.3 L377.0,442.8 L378.1,442.3 L377.6,444.3 L377.7,444.7 L377.8,445.7 L379.8,446.3 L378.9,447.5 L380.5,448.5 L378.4,450.1 L378.8,451.3 L381.5,452.2 L379.1,453.7 L381.4,453.5 L379.5,453.4 L382.2,452.6 L380.6,451.3 L381.6,450.2 L382.2,449.2 L380.0,447.7 L382.9,447.0 L381.4,445.6 L382.3,444.8 L382.3,443.7 L384.2,442.8 L384.5,441.5 L383.4,439.2 L384.7,438.8 L385.6,439.1 L386.9,439.0 L387.4,437.3 L389.5,436.8 L389.5,439.8 L390.6,440.5 L390.8,442.1 L391.6,442.9 L392.6,443.4 L394.9,443.1 L396.3,443.6 L396.6,444.9 L396.9,446.2 L397.9,446.6 L398.9,446.9 L400.0,447.7 L398.6,449.5 L401.2,449.8 L401.0,451.1 L400.4,453.6 L402.6,453.7 L404.0,451.8 L404.6,451.2 L406.7,452.5 L406.0,449.2 L407.2,449.1 L408.9,450.0 L409.8,449.5 L411.5,448.4 L413.2,448.3 L414.2,449.6 L413.9,452.1 L415.5,451.6 L414.6,453.9 L415.9,454.5 L416.0,456.0 L419.3,454.5 L419.5,454.9 L420.7,454.2 L421.7,456.0 L422.9,455.7 L423.5,454.7 L425.1,455.8 L425.0,453.6 L426.6,453.6 L427.6,452.5 L429.4,454.5 L430.5,452.8 L431.6,452.0 L432.9,450.9 L434.2,452.5 L435.0,453.3 L435.1,454.2 L434.6,455.6 L435.5,456.5 L438.0,456.6 L437.6,456.6 L439.1,457.8 L440.2,456.8 L439.6,455.1 L441.2,454.5 L440.5,453.0 L439.8,451.6 L440.8,449.5 L443.3,450.4 L442.2,453.0 L442.3,454.6 L444.4,456.1 L445.0,453.4 L446.4,452.8 L448.0,452.5 L448.4,451.2 L448.5,449.7 L449.0,448.1 L450.0,449.3 L451.8,449.0 L452.8,449.9 L452.4,452.2 L452.0,453.8 L454.2,454.1 L455.3,455.0 L456.1,456.0 L456.5,457.1 L456.0,458.8 L457.8,458.9 L456.9,461.1 L460.2,459.8 L460.7,461.1 L461.1,462.6 L462.3,463.2 L462.9,465.8 L464.8,464.7 L466.2,464.3 L466.5,462.6 L467.2,460.2 L468.5,462.3 L469.6,462.1 L470.9,461.3 L472.3,459.9 L472.8,462.0 L473.3,463.2 L475.4,460.6 L476.0,462.8 L477.0,461.6 L478.0,462.2 L478.6,463.9 L479.6,464.4 L481.2,463.3 L480.6,461.2 L483.6,462.1 L481.8,459.5 L483.1,459.1 L485.2,459.3 L484.1,457.2 L484.6,456.2 L485.8,457.6 L484.9,457.7 L487.7,457.6 L487.9,458.8 L488.8,459.6 L489.9,460.2 L490.2,461.5 L489.4,464.9 L490.9,461.0 L492.4,461.3 L493.4,460.9 L493.9,459.8 L496.1,460.2 L497.7,459.7 L498.4,459.3 L498.8,458.9 L500.3,460.2 L499.7,456.5 L501.3,456.5 L504.1,457.1 L501.5,454.5 L502.7,454.0 L504.2,453.2 L505.0,452.0" stroke-width="5.9" stroke-dasharray="0 9.5" stroke-dashoffset="4"/>
</g>
<g fill="none" stroke="#000">
<path d="M49,4 V470.3 M507.4,4 V470.3" stroke-width="2"/>
<path d="M48,5 H508.4" stroke-width="1.9"/>
<path d="M48,469.5 H508.4" stroke-width="1.6"/>
<path d="M49,469.5 V478.5 M141,469.5 V478.5 M232.5,469.5 V478.5 M324,469.5 V478.5 M416,469.5 V478.5 M507.4,469.5 V478.5" stroke-width="2"/>
</g>
<g font-size="24" text-anchor="middle" transform="translate(0,504.3) scale(1,1.05) translate(0,-504.3)">
<text x="49.3" y="504.3">0</text>
<text x="141.3" y="504.3">100</text>
<text x="232.8" y="504.3">200</text>
<text x="324.3" y="504.3">300</text>
<text x="416.2" y="504.3">400</text>
<text x="507.4" y="504.3">500</text>
</g>
<text x="278" y="540" font-size="28.7" text-anchor="middle">Temperature [°C]</text>
<text transform="translate(26.6,227.1) rotate(-90)" font-size="29" text-anchor="middle">TCD signal [a.u.]</text>
<g font-size="22" text-anchor="middle">
<text x="137.2" y="48.5" transform="translate(0,48.5) scale(1,1.06) translate(0,-48.5)">92</text>
<text x="103.1" y="108.6" transform="translate(0,108.6) scale(1,1.06) translate(0,-108.6)">60</text>
<text x="146" y="197.5" transform="translate(0,197.5) scale(1,1.06) translate(0,-197.5)">103</text>
<text x="98.2" y="377.6" transform="translate(0,377.6) scale(1,1.06) translate(0,-377.6)">65</text>
<text x="95.8" y="458.9" transform="translate(0,458.9) scale(1,1.06) translate(0,-458.9)">54</text>
</g>
<g stroke="#000" fill="none" stroke-linecap="round">
<path d="M288.3,23 H337.2" stroke-width="3.4"/>
<path d="M288.3,54.7 H304.6 M316.5,54.7 H316.9 M328.8,54.7 H337.1" stroke-width="3.4"/>
<path d="M287.9,87 H330" stroke-width="5.4" stroke-dasharray="0 10.4"/>
</g>
<g font-size="22">
<text x="343.5" y="30.3">TiO<tspan font-size="15" dy="6">2</tspan><tspan dy="-6">-CeO</tspan><tspan font-size="15" dy="6">2</tspan><tspan dy="-6">-CuO</tspan></text>
<text x="343.5" y="62">TiO<tspan font-size="15" dy="6">2</tspan><tspan dy="-6">-CeO</tspan><tspan font-size="15" dy="6">2</tspan></text>
<text x="343.5" y="94">TiO<tspan font-size="15" dy="6">2</tspan><tspan dy="-6">-CuO</tspan></text>
</g>
</svg>
</body></html>
